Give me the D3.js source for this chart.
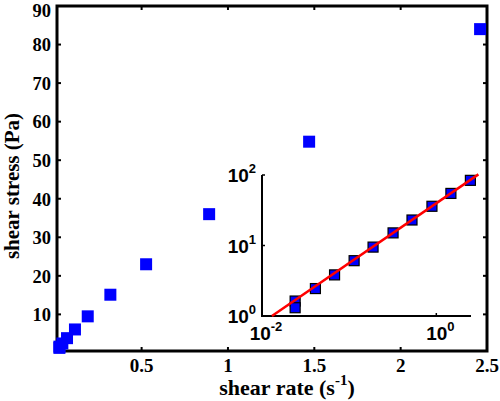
<!DOCTYPE html>
<html>
<head>
<meta charset="utf-8">
<script src="https://cdn.jsdelivr.net/npm/d3@7"></script>
<style>
  body { margin: 0; background: #fff; }
  svg { display: block; }
  .main text { font-family: "Liberation Serif", "Times New Roman", serif; font-weight: bold; }
  .inset text { font-family: "Liberation Sans", Arial, sans-serif; font-weight: bold; }
</style>
</head>
<body>
<div id="chart"></div>
<script>
// shear rate (1/s) and shear stress (Pa)
var shearRate   = [0.024, 0.024, 0.041, 0.068, 0.114, 0.188, 0.319, 0.526, 0.891, 1.47, 2.46];
var shearStress = [1.63, 1.31, 2.45, 3.83, 6.09, 9.49, 15.1, 23.0, 36.0, 54.8, 84.0];

// power-law fit line end points (inset)
var fitRate   = [0.013, 3.04];
var fitStress = [1.0, 102];

var xTicks = [0.5, 1, 1.5, 2, 2.5];
var yTicks = [10, 20, 30, 40, 50, 60, 70, 80, 90];
var insetXTicks = [0.01, 1];
var insetYTicks = [1, 10, 100];

var data = shearRate.map(function(r, i){ return {rate: r, stress: shearStress[i]}; });

var W = 500, H = 401;
var svg = d3.select('#chart').append('svg')
            .attr('width', W)
            .attr('height', H);
svg.append('rect').attr('width', W).attr('height', H).attr('fill', '#fff');

// main axes
var m = {l: 57, r: 487, t: 6, b: 351};
var x = d3.scaleLinear().domain([0.01, 2.5]).range([m.l, m.r]);
var y = d3.scaleLinear().domain([0.5, 90]).range([m.b, m.t]);

var main = svg.append('g').attr('class', 'main');

// tick marks on all four sides, pointing inward
var tickLen = 4;
main.append('g').selectAll('line.xb')
    .data(xTicks).enter().append('line')
    .attr('x1', d => x(d)).attr('x2', d => x(d))
    .attr('y1', m.b).attr('y2', m.b - tickLen)
    .attr('stroke', '#000').attr('stroke-width', 2);
main.append('g').selectAll('line.xt')
    .data(xTicks).enter().append('line')
    .attr('x1', d => x(d)).attr('x2', d => x(d))
    .attr('y1', m.t).attr('y2', m.t + tickLen)
    .attr('stroke', '#000').attr('stroke-width', 2);
main.append('g').selectAll('line.yl')
    .data(yTicks).enter().append('line')
    .attr('y1', d => y(d)).attr('y2', d => y(d))
    .attr('x1', m.l).attr('x2', m.l + tickLen)
    .attr('stroke', '#000').attr('stroke-width', 2);
main.append('g').selectAll('line.yr')
    .data(yTicks).enter().append('line')
    .attr('y1', d => y(d)).attr('y2', d => y(d))
    .attr('x1', m.r).attr('x2', m.r - tickLen)
    .attr('stroke', '#000').attr('stroke-width', 2);

main.append('rect')
    .attr('x', m.l).attr('y', m.t)
    .attr('width', m.r - m.l).attr('height', m.b - m.t)
    .attr('fill', 'none').attr('stroke', '#000').attr('stroke-width', 3);

// tick labels
main.append('g').selectAll('text')
    .data(xTicks).enter().append('text')
    .attr('x', d => x(d)).attr('y', m.b + 21)
    .attr('text-anchor', 'middle')
    .attr('font-size', 19)
    .text(d => d3.format('')(d));
// keep the top label inside the picture
main.append('g').selectAll('text')
    .data(yTicks).enter().append('text')
    .attr('x', m.l - 6).attr('y', d => Math.max(y(d) + 6.8, 17))
    .attr('text-anchor', 'end')
    .attr('font-size', 18.5)
    .text(d => d);

// axis labels
var xl = main.append('text')
    .attr('x', 287).attr('y', 395)
    .attr('text-anchor', 'middle')
    .attr('font-size', 22);
xl.append('tspan').text('shear rate (s');
xl.append('tspan').attr('dy', -10).attr('font-size', 15).text('-1');
xl.append('tspan').attr('dy', 10).text(')');

main.append('text')
    .attr('transform', 'translate(19,186) rotate(-90)')
    .attr('text-anchor', 'middle')
    .attr('font-size', 21)
    .text('shear stress (Pa)');

// main markers
var sq = 12;
main.append('g').selectAll('rect')
    .data(data).enter().append('rect')
    .attr('x', d => x(d.rate) - sq / 2)
    .attr('y', d => y(d.stress) - sq / 2)
    .attr('width', sq).attr('height', sq)
    .attr('fill', '#0000ff');

// inset (log-log)
var ins = {l: 262, r: 471, t: 175, b: 316};
var xi = d3.scaleLog().domain([0.01, 2.5]).range([ins.l, ins.r]);
var yi = d3.scaleLog().domain([1, 100]).range([ins.b, ins.t]);

var inset = svg.append('g').attr('class', 'inset');

inset.append('path')
    .attr('d', `M${ins.l},${ins.t}V${ins.b}H${ins.r}`)
    .attr('fill', 'none').attr('stroke', '#000').attr('stroke-width', 2);

inset.append('g').selectAll('line')
    .data(insetXTicks).enter().append('line')
    .attr('x1', d => xi(d)).attr('x2', d => xi(d))
    .attr('y1', ins.b).attr('y2', ins.b - 3)
    .attr('stroke', '#000').attr('stroke-width', 1.5);
inset.append('g').selectAll('line')
    .data(insetYTicks).enter().append('line')
    .attr('y1', d => yi(d)).attr('y2', d => yi(d))
    .attr('x1', ins.l).attr('x2', ins.l + 3)
    .attr('stroke', '#000').attr('stroke-width', 1.5);

function powLabel(sel, exp){
  sel.append('tspan').text('10');
  sel.append('tspan').attr('dy', -9).attr('font-size', 13).text(exp);
}

inset.append('g').selectAll('text')
    .data(insetXTicks).enter().append('text')
    .attr('x', d => xi(d) + 4).attr('y', ins.b + 24)
    .attr('text-anchor', 'middle')
    .attr('font-size', 19)
    .each(function(d){ powLabel(d3.select(this), Math.round(Math.log10(d))); });
inset.append('g').selectAll('text')
    .data(insetYTicks).enter().append('text')
    .attr('x', ins.l - 6).attr('y', d => yi(d) + 7)
    .attr('text-anchor', 'end')
    .attr('font-size', 19)
    .each(function(d){ powLabel(d3.select(this), Math.round(Math.log10(d))); });

inset.append('g').selectAll('rect')
    .data(data).enter().append('rect')
    .attr('x', d => xi(d.rate) - 5)
    .attr('y', d => yi(d.stress) - 5)
    .attr('width', 10).attr('height', 10)
    .attr('fill', '#0000ff').attr('stroke', '#000').attr('stroke-width', 1.2);

inset.append('line')
    .attr('x1', xi(fitRate[0])).attr('y1', yi(fitStress[0]))
    .attr('x2', xi(fitRate[1])).attr('y2', yi(fitStress[1]))
    .attr('stroke', '#ff0000').attr('stroke-width', 2.5);
</script>
</body>
</html>
